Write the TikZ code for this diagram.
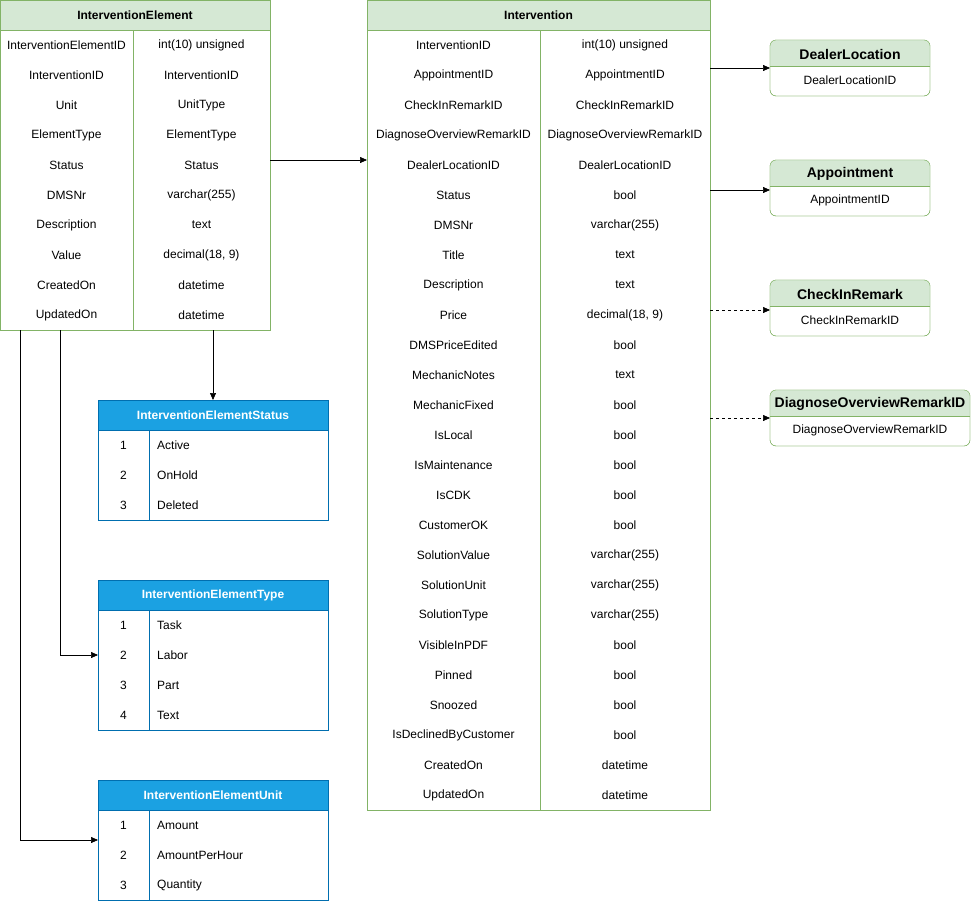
\documentclass[tikz,border=0pt]{standalone}
\usepackage{fontspec}
\setmainfont{Liberation Sans}
\usetikzlibrary{arrows.meta}
\definecolor{gfill}{HTML}{D5E8D4}
\definecolor{gline}{HTML}{82B366}
\definecolor{bfill}{HTML}{1BA1E2}
\definecolor{bline}{HTML}{006EAF}
\begin{document}
\begin{tikzpicture}[x=1pt,y=-1pt,
  txt/.style={font=\fontsize{12}{14}\selectfont,inner sep=0pt},
  hdr/.style={font=\fontsize{12}{14}\selectfont\bfseries,inner sep=0pt},
  rhdr/.style={font=\fontsize{14}{16}\selectfont\bfseries,inner sep=0pt},
  conn/.style={-{Triangle[length=7pt,width=6pt]},black,line width=0.6pt},
  dconn/.style={conn,dash pattern=on 3pt off 3pt}]
\useasboundingbox (0,0) rectangle (972,902);
% ---- generic green table
\newcommand{\gtable}[6]{% name, x0, xmid, x1, nrows, title
  \draw[gline,fill=white] (#2,0) rectangle (#4,{30+30*#5});
  \draw[gline,fill=gfill] (#2,0) rectangle (#4,30);
  \draw[gline] (#3,30) -- (#3,{30+30*#5});
  \node[hdr] (#1) at ({(#2+#4)/2},15) {#6};
}
\gtable{ie}{0}{133}{270}{10}{InterventionElement}
\foreach \a/\b [count=\i from 0] in {InterventionElementID/int(10) unsigned,InterventionID/InterventionID,Unit/UnitType,ElementType/ElementType,Status/Status,DMSNr/varchar(255),Description/text,Value/{decimal(18, 9)},CreatedOn/datetime,UpdatedOn/datetime}{
  \node[txt] (iea\i) at (66.5,{45+30*\i}) {\a};
  \node[txt] (ieb\i) at (201.5,{45+30*\i}) {\b};
}
\gtable{iv}{367}{540}{710}{26}{Intervention}
\foreach \a/\b [count=\i from 0] in {InterventionID/int(10) unsigned,AppointmentID/AppointmentID,CheckInRemarkID/CheckInRemarkID,DiagnoseOverviewRemarkID/DiagnoseOverviewRemarkID,DealerLocationID/DealerLocationID,Status/bool,DMSNr/varchar(255),Title/text,Description/text,Price/{decimal(18, 9)},DMSPriceEdited/bool,MechanicNotes/text,MechanicFixed/bool,IsLocal/bool,IsMaintenance/bool,IsCDK/bool,CustomerOK/bool,SolutionValue/varchar(255),SolutionUnit/varchar(255),SolutionType/varchar(255),VisibleInPDF/bool,Pinned/bool,Snoozed/bool,IsDeclinedByCustomer/bool,CreatedOn/datetime,UpdatedOn/datetime}{
  \node[txt] (iva\i) at (453.5,{45+30*\i}) {\a};
  \node[txt] (ivb\i) at (625,{45+30*\i}) {\b};
}
% ---- blue tables
\newcommand{\btable}[4]{% name, y0, nrows, title
  \draw[bline,fill=white] (98,#2) rectangle (328,{#2+30+30*#3});
  \draw[bline,fill=bfill] (98,#2) rectangle (328,{#2+30});
  \draw[bline] (149,{#2+30}) -- (149,{#2+30+30*#3});
  \node[hdr,text=white] (#1) at (213,{#2+15}) {#4};
}
\btable{st}{400}{3}{InterventionElementStatus}
\foreach \a [count=\i] in {Active,OnHold,Deleted}{
  \node[txt] (stn\i) at (123.5,{415+30*\i}) {\i};
  \node[txt,anchor=west] (stt\i) at (157,{415+30*\i}) {\a};
}
\btable{ty}{580}{4}{InterventionElementType}
\foreach \a [count=\i] in {Task,Labor,Part,Text}{
  \node[txt] (tyn\i) at (123.5,{595+30*\i}) {\i};
  \node[txt,anchor=west] (tyt\i) at (157,{595+30*\i}) {\a};
}
\btable{un}{780}{3}{InterventionElementUnit}
\foreach \a [count=\i] in {Amount,AmountPerHour,Quantity}{
  \node[txt] (unn\i) at (123.5,{795+30*\i}) {\i};
  \node[txt,anchor=west] (unt\i) at (157,{795+30*\i}) {\a};
}
% ---- right rounded boxes
\newcommand{\rbox}[5]{% name, y0, x1, title, field
  \draw[gline,fill=white,rounded corners=6pt] (770,#2) rectangle (#3,{#2+56});
  \begin{scope}
    \clip[rounded corners=6pt] (770,#2) rectangle (#3,{#2+56});
    \fill[gfill] (770,#2) rectangle (#3,{#2+26});
  \end{scope}
  \draw[gline,rounded corners=6pt] (770,#2) rectangle (#3,{#2+56});
  \draw[gline] (770,{#2+26}) -- (#3,{#2+26});
  \node[rhdr] (#1) at ({(770+#3)/2},{#2+14}) {#4};
  \node[txt] (#1f) at ({(770+#3)/2},{#2+40}) {#5};
}
\rbox{dl}{40}{930}{DealerLocation}{DealerLocationID}
\rbox{ap}{160}{930}{Appointment}{AppointmentID}
\rbox{cr}{280}{930}{CheckInRemark}{CheckInRemarkID}
\rbox{dr}{390}{970}{DiagnoseOverviewRemarkID}{DiagnoseOverviewRemarkID}
% ---- connectors
\coordinate (ieR) at (270,160); \coordinate (ivL) at (367,160);
\draw[conn] (ieR) -- (ivL);
\coordinate (ieB1) at (213,330); \coordinate (stT) at (213,400);
\draw[conn] (ieB1) -- (stT);
\coordinate (ieB2) at (60,330); \coordinate (tyL) at (98,655);
\draw[conn] (ieB2) |- (tyL);
\coordinate (ieB3) at (20,330); \coordinate (unL) at (98,840);
\draw[conn] (ieB3) |- (unL);
\coordinate (ivR1) at (710,68); \coordinate (dlL) at (770,68);
\draw[conn] (ivR1) -- (dlL);
\coordinate (ivR2) at (710,190); \coordinate (apL) at (770,190);
\draw[conn] (ivR2) -- (apL);
\coordinate (ivR3) at (710,310); \coordinate (crL) at (770,310);
\draw[dconn] (ivR3) -- (crL);
\coordinate (ivR4) at (710,418); \coordinate (drL) at (770,418);
\draw[dconn] (ivR4) -- (drL);
\end{tikzpicture}
\end{document}
